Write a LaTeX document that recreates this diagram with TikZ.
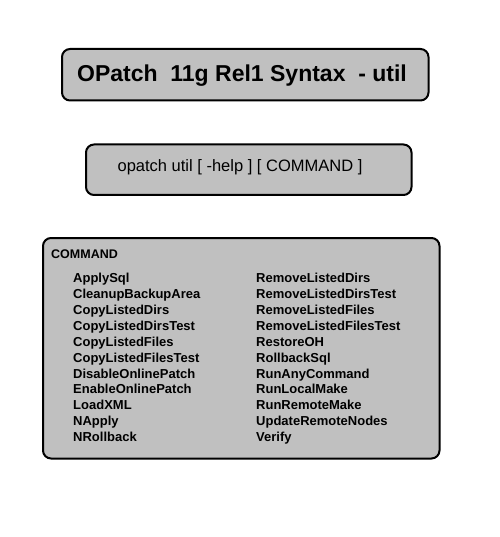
\documentclass[tikz,border=0pt]{standalone}
\usepackage{fontspec}
\setmainfont{Liberation Sans}
\definecolor{panelgray}{HTML}{C0C0C0}
\begin{document}
\begin{tikzpicture}[x=1pt,y=-1pt]
\tikzset{
  panel/.style={draw=black, line width=2pt, fill=panelgray, rounded corners=8pt, inner sep=0pt},
  cmd/.style={anchor=base west, inner sep=0pt, font=\bfseries\fontsize{13}{13}\selectfont},
}
\path[use as bounding box, fill=white] (0,0) rectangle (499,537);
% title panel
\node[panel, minimum width=366.5pt, minimum height=51.5pt] (titlebox) at (245.25,74.75) {};
\node[anchor=base, inner sep=0pt, font=\bfseries\fontsize{23}{23}\selectfont] (title) at (242,82) {OPatch\ \ 11g Rel1 Syntax\ \ - util};
% syntax panel
\node[panel, minimum width=325.5pt, minimum height=50.5pt] (syntaxbox) at (248.75,169.75) {};
\node[anchor=base, inner sep=0pt, font=\fontsize{16.5}{16.5}\selectfont] (syntax) at (240,172) {opatch util [ -help ] [ COMMAND ]};
% command panel
\node[panel, minimum width=396.5pt, minimum height=220.5pt] (cmdbox) at (241.25,348.25) {};
\node[anchor=base west, inner sep=0pt, font=\bfseries\fontsize{12.5}{12.5}\selectfont] (cmdhead) at (51,258.3) {COMMAND};
\foreach \t [count=\i from 0] in {ApplySql,CleanupBackupArea,CopyListedDirs,CopyListedDirsTest,CopyListedFiles,CopyListedFilesTest,DisableOnlinePatch,EnableOnlinePatch,LoadXML,NApply,NRollback}
  \node[cmd] (left\i) at (73,282.5+15.92*\i) {\t};
\foreach \t [count=\i from 0] in {RemoveListedDirs,RemoveListedDirsTest,RemoveListedFiles,RemoveListedFilesTest,RestoreOH,RollbackSql,RunAnyCommand,RunLocalMake,RunRemoteMake,UpdateRemoteNodes,Verify}
  \node[cmd] (right\i) at (256,282.5+15.92*\i) {\t};
\end{tikzpicture}
\end{document}
